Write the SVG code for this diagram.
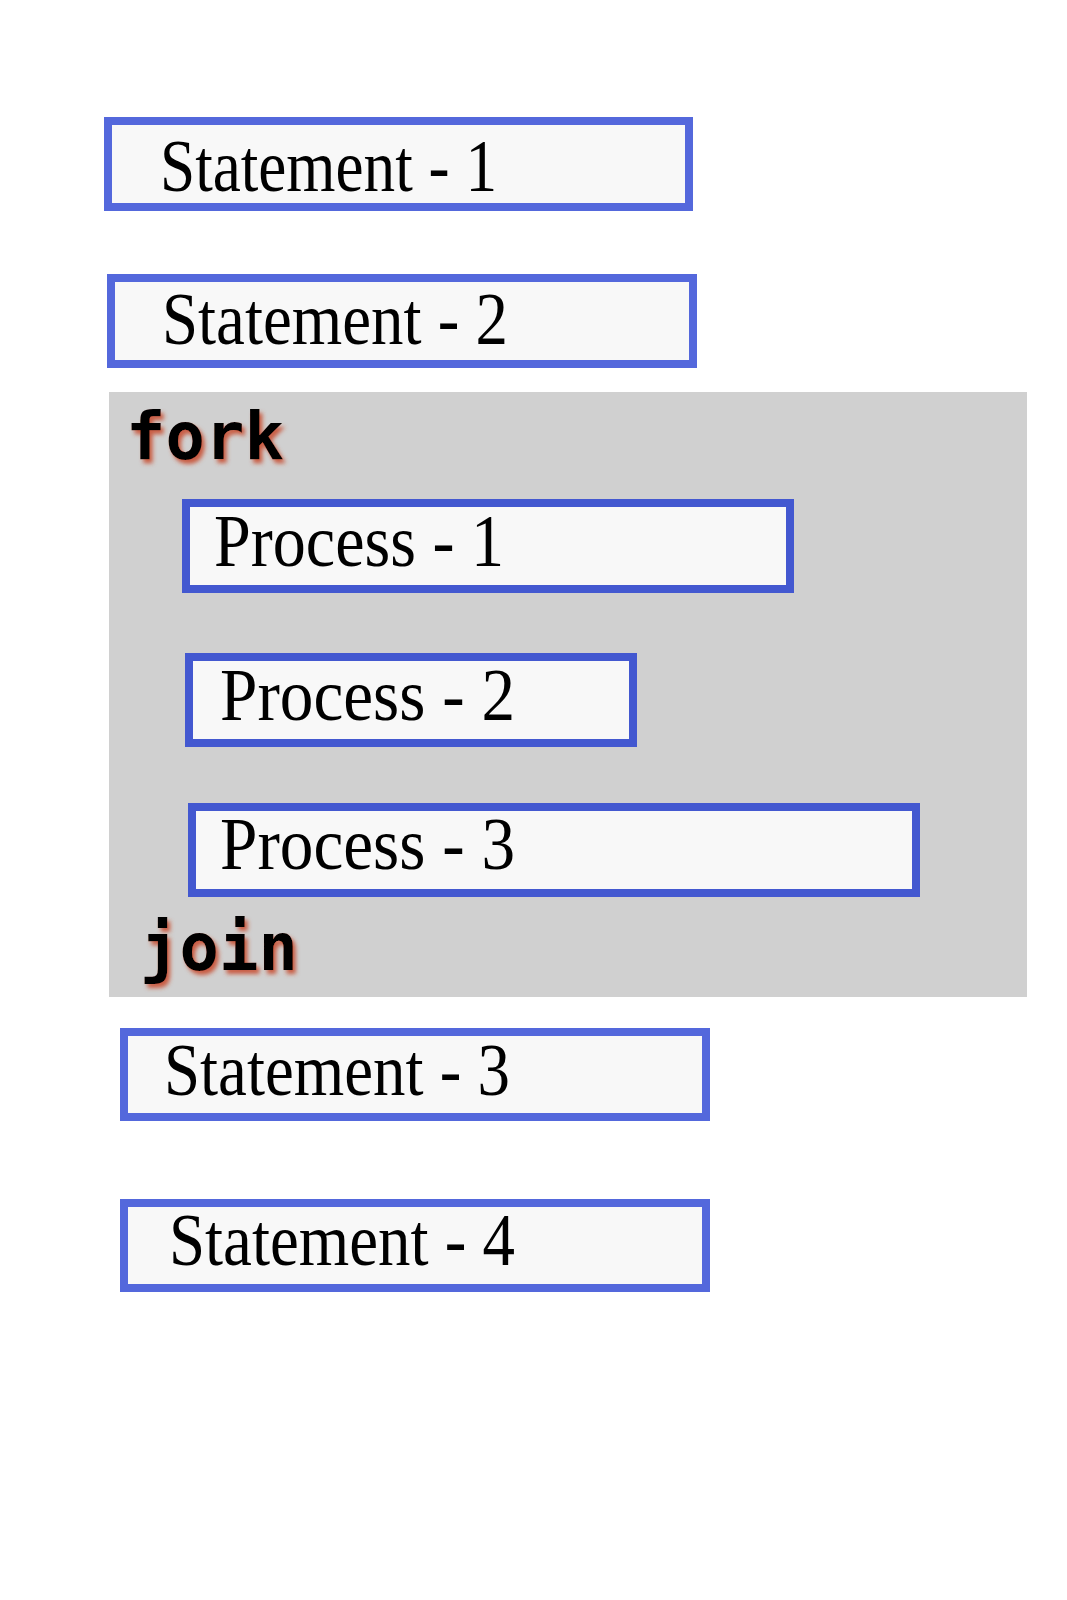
<svg xmlns="http://www.w3.org/2000/svg" width="1067" height="1600" viewBox="0 0 1067 1600">
  <defs>
    <filter id="kwShadow" x="-20%" y="-30%" width="140%" height="170%">
      <feDropShadow dx="3" dy="4" stdDeviation="2" flood-color="#c84a2a" flood-opacity="0.85"/>
    </filter>
  </defs>
  <style>
    .stmt { fill: #f8f8f8; stroke: #5468dc; stroke-width: 8; }
    .proc { fill: #f8f8f8; stroke: #4358d0; stroke-width: 8; }
    .lbl { font-family: "Liberation Serif", "Times New Roman", serif; font-size: 73px; fill: #000; }
    .kw { font-family: "DejaVu Sans Mono", "Liberation Mono", monospace; font-weight: bold; font-size: 66px; fill: #050505; filter: url(#kwShadow); }
    .block { fill: #d0d0d0; }
  </style>
  <rect x="0" y="0" width="1067" height="1600" fill="#ffffff"/>

  <g id="stmt1">
    <rect class="stmt" x="108" y="121" width="581" height="86"/>
    <text class="lbl" x="160" y="191" textLength="337" lengthAdjust="spacingAndGlyphs">Statement - 1</text>
  </g>

  <g id="stmt2">
    <rect class="stmt" x="111" y="278" width="582" height="86"/>
    <text class="lbl" x="162" y="344" textLength="346" lengthAdjust="spacingAndGlyphs">Statement - 2</text>
  </g>

  <g id="forkjoin">
    <rect class="block" x="109" y="392" width="918" height="605"/>
    <text class="kw" x="126" y="459" textLength="158" lengthAdjust="spacingAndGlyphs">fork</text>
    <text class="kw" x="140" y="970" textLength="158" lengthAdjust="spacingAndGlyphs">join</text>
  </g>

  <g id="proc1">
    <rect class="proc" x="186" y="503" width="604" height="86"/>
    <text class="lbl" x="214" y="566" textLength="290" lengthAdjust="spacingAndGlyphs">Process - 1</text>
  </g>

  <g id="proc2">
    <rect class="proc" x="189" y="657" width="444" height="86"/>
    <text class="lbl" x="220" y="720" textLength="295" lengthAdjust="spacingAndGlyphs">Process - 2</text>
  </g>

  <g id="proc3">
    <rect class="proc" x="192" y="807" width="724" height="86"/>
    <text class="lbl" x="220" y="869" textLength="295" lengthAdjust="spacingAndGlyphs">Process - 3</text>
  </g>

  <g id="stmt3">
    <rect class="stmt" x="124" y="1032" width="582" height="85"/>
    <text class="lbl" x="164" y="1095" textLength="346" lengthAdjust="spacingAndGlyphs">Statement - 3</text>
  </g>

  <g id="stmt4">
    <rect class="stmt" x="124" y="1203" width="582" height="85"/>
    <text class="lbl" x="169" y="1265" textLength="346" lengthAdjust="spacingAndGlyphs">Statement - 4</text>
  </g>

  <g id="connectors"></g>
</svg>
